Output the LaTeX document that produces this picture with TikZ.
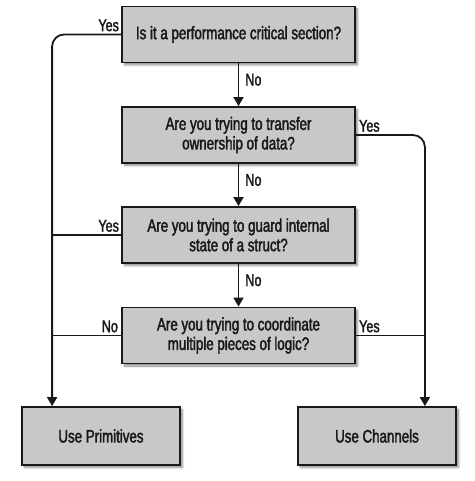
\documentclass[tikz,border=0pt]{standalone}
\usepackage{fontspec}
\setmainfont[FakeStretch=0.74,FakeBold=2]{Liberation Sans}
\usetikzlibrary{arrows.meta,shadows.blur,calc}
\definecolor{boxfill}{RGB}{200,200,200}
\definecolor{ink}{RGB}{25,25,25}
\begin{document}
\begin{tikzpicture}[x=1pt,y=-1pt,
  qbox/.style={draw=ink,line width=1.8pt,fill=boxfill,minimum width=233pt,minimum height=56pt,
    align=center,font=\fontsize{18}{19.5}\selectfont,text=ink,inner sep=0pt,
    blur shadow={shadow xshift=2.5pt,shadow yshift=-2.5pt,shadow blur steps=6,shadow opacity=45}},
  rbox/.style={qbox,minimum width=158pt,minimum height=58pt},
  conn/.style={draw=ink,line width=1.8pt},
  arr/.style={conn,-{Triangle[width=10pt,length=9pt]}},
  lbl/.style={font=\fontsize{17}{18}\selectfont,text=ink,inner sep=0pt}]
\useasboundingbox (0,0) rectangle (474,481);
\node[qbox] (b1) at (238.5,34.5) {Is it a performance critical section?};
\node[qbox] (b2) at (238.5,135) {Are you trying to transfer\\ownership of data?};
\node[qbox] (b3) at (238.5,235) {Are you trying to guard internal\\state of a struct?};
\node[qbox] (b4) at (238.5,335.5) {Are you trying to coordinate\\multiple pieces of logic?};
\node[rbox] (b5) at (101,436) {Use Primitives};
\node[rbox] (b6) at (377,436) {Use Channels};
\coordinate (pl) at ([xshift=31pt]b5.north west);
\coordinate (pr) at ([xshift=-32pt]b6.north east);
% No arrows down the middle
\draw[arr] (b1) -- (b2) node[lbl,midway,anchor=west,xshift=6pt,yshift=5pt] {No};
\draw[arr] (b2) -- (b3) node[lbl,midway,anchor=west,xshift=6pt,yshift=5pt] {No};
\draw[arr] (b3) -- (b4) node[lbl,midway,anchor=west,xshift=6pt,yshift=5pt] {No};
% left trunk
\draw[arr,rounded corners=12pt] (b1.west) -| (pl);
\node[lbl,anchor=south east] (y1) at ([xshift=-2pt,yshift=3pt]b1.west) {Yes};
\draw[conn] (b3.west) -- (b3.west -| pl);
\node[lbl,anchor=south east] (y3) at ([xshift=-2pt,yshift=3pt]b3.west) {Yes};
\draw[conn] (b4.west) -- (b4.west -| pl);
\node[lbl,anchor=south east] (n4) at ([xshift=-3pt,yshift=3pt]b4.west) {No};
% right trunk
\draw[arr,rounded corners=12pt] (b2.east) -| (pr);
\node[lbl,anchor=south west] (y2) at ([xshift=3pt,yshift=3pt]b2.east) {Yes};
\draw[conn] (b4.east) -- (b4.east -| pr);
\node[lbl,anchor=south west] (y4) at ([xshift=3pt,yshift=3pt]b4.east) {Yes};
\end{tikzpicture}
\end{document}
